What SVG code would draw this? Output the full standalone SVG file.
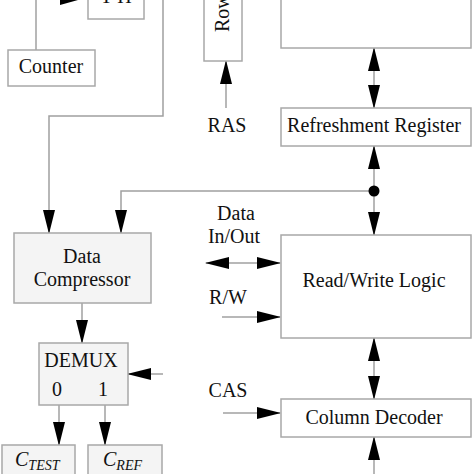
<svg xmlns="http://www.w3.org/2000/svg" width="474" height="474" viewBox="0 0 474 474">
<style>
.box{fill:#ffffff;stroke:#a8a8a8;stroke-width:1.5}
.gbox{fill:#f4f4f4;stroke:#a8a8a8;stroke-width:1.5}
.ln{fill:none;stroke:#a0a0a0;stroke-width:1.5}
.arr{marker-end:url(#ah)}
.bi{marker-end:url(#ah);marker-start:url(#ahs)}
text{font-family:"Liberation Serif","Times New Roman",serif;font-size:20px;fill:#111}
.c{text-anchor:middle}
</style>
<defs>
<marker id="ah" markerUnits="userSpaceOnUse" markerWidth="24" markerHeight="12" refX="23" refY="6" orient="auto" viewBox="0 0 24 12">
<path d="M0,0 L24,6 L0,12 z" fill="#000"/>
</marker>
<marker id="ahs" markerUnits="userSpaceOnUse" markerWidth="24" markerHeight="12" refX="23" refY="6" orient="auto-start-reverse" viewBox="0 0 24 12">
<path d="M0,0 L24,6 L0,12 z" fill="#000"/>
</marker>
</defs>
<rect width="474" height="474" fill="#ffffff"/>

<g id="connectors">
<polygon points="60,5 78,0 60,0" fill="#000"/>
<line class="ln" x1="36" y1="0" x2="36" y2="50"/>
<polyline class="ln arr" points="163,0 163,116 49,116 49,233"/>
<line class="ln arr" x1="226" y1="108" x2="226" y2="61"/>
<line class="ln bi" x1="374" y1="48" x2="374" y2="108"/>
<line class="ln arr" x1="374" y1="191" x2="374" y2="146"/>
<line class="ln arr" x1="374" y1="191" x2="374" y2="235"/>
<polyline class="ln arr" points="374,191 121,191 121,233"/>
<circle cx="374" cy="191" r="5.5" fill="#000"/>
<line class="ln arr" x1="82" y1="303" x2="82" y2="343"/>
<line class="ln arr" x1="163" y1="374" x2="128" y2="374"/>
<line class="ln arr" x1="59" y1="405" x2="59" y2="445"/>
<line class="ln arr" x1="105" y1="405" x2="105" y2="445"/>
<line class="ln bi" x1="206" y1="263" x2="280" y2="263"/>
<line class="ln arr" x1="222" y1="317" x2="280" y2="317"/>
<line class="ln bi" x1="374" y1="338" x2="374" y2="399"/>
<line class="ln arr" x1="223" y1="413" x2="280" y2="413"/>
<line class="ln arr" x1="374" y1="474" x2="374" y2="437"/>
</g>

<g id="top-box">
<rect class="box" x="88" y="-20" width="56" height="39"/>
<text class="c" x="116" y="3">T H</text>
</g>

<g id="counter">
<rect class="box" x="8" y="50" width="87" height="36"/>
<text class="c" x="51" y="73">Counter</text>
</g>

<g id="row-decoder">
<rect class="box" x="204" y="-20" width="38" height="81"/>
<text transform="translate(229,32) rotate(-90)">Row Decoder</text>
</g>

<g id="memory-array">
<rect class="box" x="281" y="-20" width="190" height="68"/>
</g>

<g id="ras">
<text class="c" x="227" y="132">RAS</text>
</g>

<g id="refreshment-register">
<rect class="box" x="281" y="108" width="190" height="38"/>
<text class="c" x="374" y="132">Refreshment Register</text>
</g>

<g id="data-compressor">
<rect class="gbox" x="14" y="233" width="137" height="70"/>
<text class="c" x="82" y="263">Data</text>
<text class="c" x="82" y="286">Compressor</text>
</g>

<g id="demux">
<rect class="gbox" x="39" y="343" width="89" height="62"/>
<text class="c" x="81" y="367">DEMUX</text>
<text class="c" x="57" y="396">0</text>
<text class="c" x="103" y="396">1</text>
</g>

<g id="c-test">
<rect class="gbox" x="2" y="445" width="73" height="40"/>
<text x="15" y="466" font-style="italic">C<tspan font-size="14" dy="4">TEST</tspan></text>
</g>

<g id="c-ref">
<rect class="gbox" x="88" y="445" width="74" height="40"/>
<text x="103" y="466" font-style="italic">C<tspan font-size="14" dy="4">REF</tspan></text>
</g>

<g id="data-inout">
<text class="c" x="236" y="220">Data</text>
<text class="c" x="234" y="243">In/Out</text>
</g>

<g id="read-write-logic">
<rect class="box" x="281" y="235" width="190" height="103"/>
<text class="c" x="374" y="287">Read/Write Logic</text>
</g>

<g id="rw">
<text class="c" x="228" y="304">R/W</text>
</g>

<g id="cas">
<text class="c" x="228" y="397">CAS</text>
</g>

<g id="column-decoder">
<rect class="box" x="281" y="399" width="190" height="38"/>
<text class="c" x="374" y="424">Column Decoder</text>
</g>
</svg>
